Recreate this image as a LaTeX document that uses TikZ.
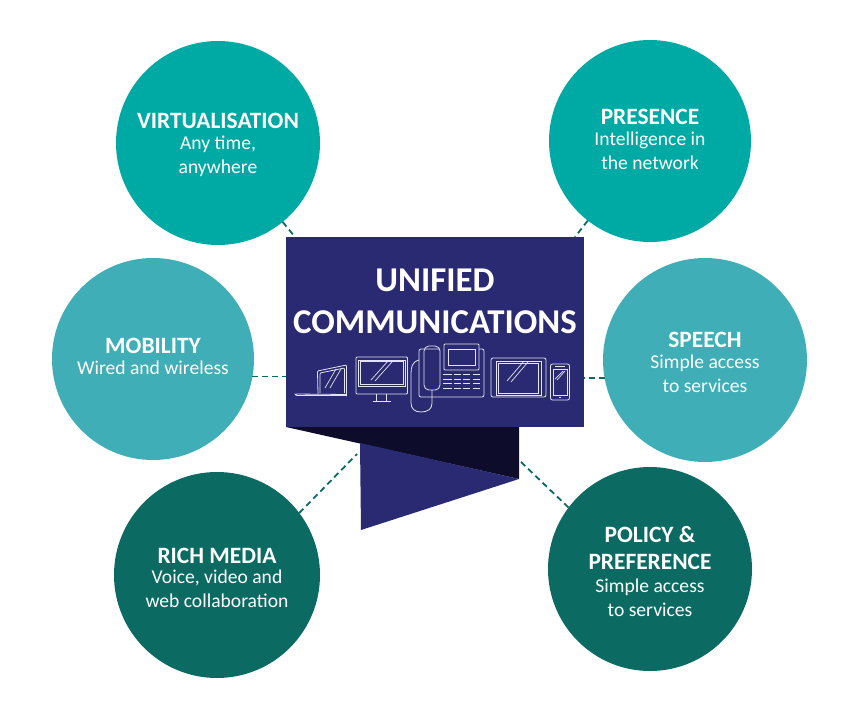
\documentclass[tikz,border=0pt]{standalone}
\usepackage{fontspec}
\usepackage{xcolor}
\usetikzlibrary{positioning}
\setmainfont{Carlito}
\definecolor{tealA}{HTML}{00AAA4}
\definecolor{tealB}{HTML}{3FAEB7}
\definecolor{tealC}{HTML}{0B6B62}
\definecolor{navyA}{HTML}{2A2A72}
\definecolor{navyB}{HTML}{0D0D2B}
\definecolor{iconline}{HTML}{E4E4F0}
\newcommand{\headtext}[1]{{\fontsize{23.4}{24}\bfseries\selectfont #1}}

\begin{document}
\begin{tikzpicture}[x=1pt, y=1pt, on grid,
    bubble/.style={circle, inner sep=0pt, outer sep=0pt},
    bubbletext/.style={align=center, text=white, inner sep=0pt, font=\fontsize{19.6}{24}\selectfont},
    hubbox/.style={rectangle, fill=navyA, inner sep=0pt, outer sep=0pt, minimum width=298pt, minimum height=190pt},
    hubtitle/.style={align=center, text=white, font=\fontsize{34.8}{42}\bfseries\selectfont},
    link/.style={draw=tealC, line width=1.8pt, dash pattern=on 6pt off 4pt},
    icon/.style={draw=iconline, line width=.8pt, rounded corners=1pt}]

        \useasboundingbox (-435,-388) rectangle (415,332);

        \node[hubbox] (hub) {};
        \node[hubtitle, above=31pt of hub] (title) {UNIFIED\\COMMUNICATIONS};

        \node[bubble, fill=tealA, minimum size=204pt, above left=189pt and 217pt of hub] (virt) {};
        \node[bubble, fill=tealA, minimum size=202pt, above right=191pt and 215pt of hub] (presence) {};
        \node[bubble, fill=tealB, minimum size=202pt, below left=27pt and 282pt of hub] (mobility) {};
        \node[bubble, fill=tealB, minimum size=204pt, below right=28pt and 270pt of hub] (speech) {};
        \node[bubble, fill=tealC, minimum size=206pt, below left=243pt and 218pt of hub] (rich) {};
        \node[bubble, fill=tealC, minimum size=204pt, below right=237pt and 215pt of hub] (policy) {};

        \node[bubbletext, below=1.5pt of virt] (virtlabel) {\headtext{VIRTUALISATION}\\[-3pt]Any time,\\anywhere};
        \node[bubbletext, above=1.5pt of presence] (presencelabel) {\headtext{PRESENCE}\\[-3pt]Intelligence in\\the network};
        \node[bubbletext, above=3pt of mobility] (mobilitylabel) {\headtext{MOBILITY}\\[-3pt]Wired and wireless};
        \node[bubbletext, below=2pt of speech] (speechlabel) {\headtext{SPEECH}\\[-3pt]Simple access\\to services};
        \node[bubbletext, below=3pt of rich] (richlabel) {\headtext{RICH MEDIA}\\[-4pt]Voice, video and\\web collaboration};
        \node[bubbletext, below=2.5pt of policy] (policylabel) {\headtext{POLICY \&}\\[3pt]\headtext{PREFERENCE}\\[-1pt]Simple access\\to services};

        % ribbon under the box
        \fill[navyB] (hub.south west) -- ++(233,0) -- ++(0,-52) -- cycle;
        \fill[navyA] (-75,-111) -- (84,-147) -- (-74,-198) -- cycle;

        \coordinate (hubnw) at (-140,95);
        \coordinate (hubne) at (140,95);
        \coordinate (hubsw) at (-78,-122);
        \coordinate (hubse) at (85,-129);

        \path[link]
        (virt) edge[] (hubnw)
        (presence) edge[] (hubne)
        (mobility.-10) edge[] (mobility.-10 -| hub.west)
        (speech.190) edge[] (speech.190 -| hub.east)
        (rich.37.5) edge[] (hubsw)
        (policy.143) edge[] (hubse);

        % devices, in picture pixels
        \begin{scope}[shift={(-435,332)}, y=-1pt]
            % laptop
            \draw[icon] (318,394) -- (317.5,371) -- (346.5,365) -- (346.5,394);
            \draw[icon] (320,393) -- (320,373) -- (344.5,368) -- (344.5,393);
            \draw[icon] (295,394) -- (346.5,394.5) -- (346.5,395.5) -- (296,395.5) -- cycle;
            \draw[iconline, line width=.7pt] (325,388) -- (336,369) (330,388) -- (341,369);
            % monitor
            \draw[icon] (356,357) rectangle (407.5,394);
            \draw[iconline, line width=.7pt] (358.5,360) rectangle (405,386) (360,361.5) rectangle (403.5,384.5);
            \draw[iconline, line width=.7pt] (371,380) -- (388,361) (375,381) -- (392,362);
            \draw[iconline, line width=.8pt] (376.5,394) -- (376.5,401) (386,394) -- (386,401) (372.5,401) -- (390.5,401);
            % desk phone
            \draw[icon, rounded corners=2pt] (440,349) -- (419,349) -- (419,397) -- (484,397) -- (484,349) -- (479,349);
            \draw[icon, rounded corners=5pt] (424,346) rectangle (440,390);
            \draw[icon] (444,344) rectangle (479,370);
            \draw[iconline, line width=.8pt] (448,349) rectangle (475,365);
            \foreach \keyy in {374,379,383,388} {
                \draw[iconline, line width=.8pt] (443,\keyy) -- (452,\keyy) (454,\keyy) -- (461,\keyy) (463,\keyy) -- (470,\keyy) (473,\keyy) -- (480,\keyy);
            }
            \draw[iconline, line width=.8pt] (419,360) .. controls (412,362) and (411,367) .. (411,374) -- (411,403) .. controls (411,409) and (415,412) .. (421,412) .. controls (428,412) and (432,409) .. (432,403) -- (432,390);
            % tablet
            \draw[icon, rounded corners=2pt] (491,358) rectangle (546,397);
            \draw[iconline, line width=.7pt] (496,361) rectangle (541,395) (498,363) rectangle (538,393);
            \draw[iconline, line width=.7pt] (507,381) -- (524,361) (511,382) -- (528,362);
            % mobile
            \draw[icon, rounded corners=2pt] (550.5,364) rectangle (569.5,400);
            \draw[iconline, line width=.7pt] (553,369) rectangle (567,395) (555,366.5) -- (565,366.5) (559,397.5) -- (561,397.5);
            \draw[iconline, line width=.7pt] (555,379) -- (563,371) (557,380) -- (565,371);
        \end{scope}

    \end{tikzpicture}
\end{document}
